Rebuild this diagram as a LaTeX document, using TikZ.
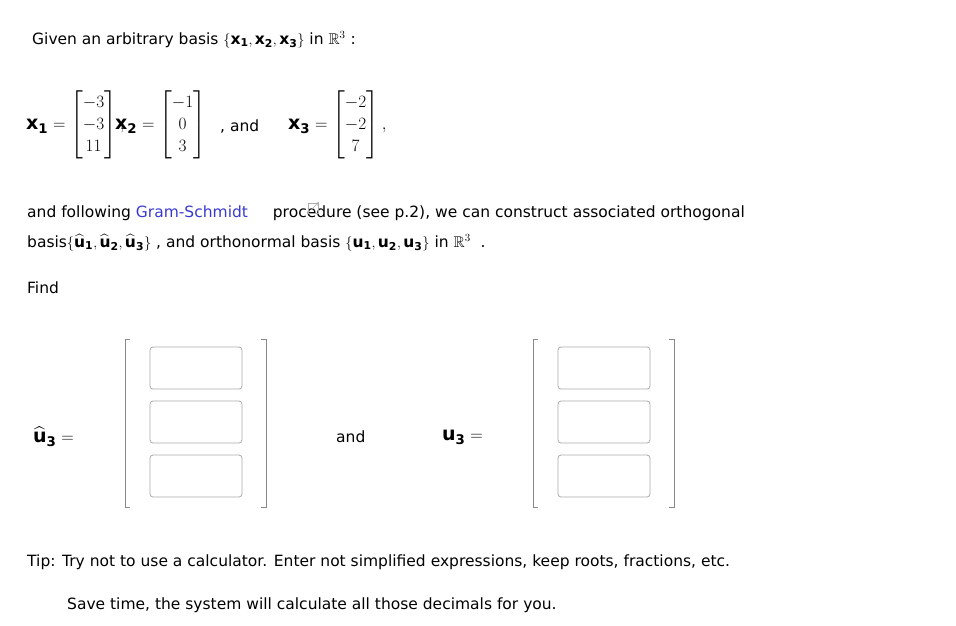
\documentclass[tikz,border=0pt]{standalone}
\usepackage{amsmath,amssymb}
\usepackage{fontspec}
\setmainfont{DejaVu Sans}
\definecolor{lnk}{HTML}{3A3AD0}
\definecolor{bxc}{HTML}{AAAAAA}
\definecolor{brc}{HTML}{888888}
\tikzset{txt/.style={anchor=base west,inner sep=0pt,font=\fontsize{15.5}{18}\selectfont},
 mth/.style={anchor=west,inner sep=0pt,font=\fontsize{19}{22}\selectfont},
 inbox/.style={draw=bxc,rounded corners=3pt,minimum width=92pt,minimum height=42pt,inner sep=0pt,line width=0.8pt},
 brk/.style={draw=brc,line width=0.9pt}}
\begin{document}
\begin{tikzpicture}[x=1pt,y=-1pt]
\useasboundingbox (0,0) rectangle (956,625);
\node[txt] (t1) at (32,44) {Given an arbitrary basis $\{\mathbf{x_1},\mathbf{x_2},\mathbf{x_3}\}$ in $\mathbb{R}^3$ :};
\node[mth] (m1) at (26,125) {$\mathbf{x_1}=\begin{bmatrix}-3\\-3\\11\end{bmatrix},$};
\node[mth] (m2) at (115,125) {$\mathbf{x_2}=\begin{bmatrix}-1\\0\\3\end{bmatrix}$};
\node[txt] (and1) at (220,131) {, and};
\node[mth] (m3) at (288,125) {$\mathbf{x_3}=\begin{bmatrix}-2\\-2\\7\end{bmatrix},$};
\node[txt] (t2) at (27,217) {and following \textcolor{lnk}{Gram-Schmidt}\hspace{20pt} procedure (see p.2), we can construct associated orthogonal};
\coordinate (ic) at (313,210);
\draw[bxc,line width=0.6pt] (308,203) rectangle (318,213);
\draw[bxc,line width=0.6pt,-stealth] (311,210) -- (319,202);
\node[txt] (t3) at (27,247) {basis$\{\widehat{\mathbf{u}}_{\mathbf{1}},\widehat{\mathbf{u}}_{\mathbf{2}},\widehat{\mathbf{u}}_{\mathbf{3}}\}$ , and orthonormal basis $\{\mathbf{u_1},\mathbf{u_2},\mathbf{u_3}\}$ in $\mathbb{R}^3$ \ .};
\node[txt] (find) at (27,293) {Find};
\node[mth] (uh) at (33,437) {$\widehat{\mathbf{u}}_{\mathbf{3}}=$};
\node[txt] (and2) at (336,442) {and};
\node[mth] (u3) at (442,437) {$\mathbf{u_3}=$};
\foreach \xo/\nm in {0/a,408/b}{
 \draw[brk] (\xo+130,339) -- (\xo+125,339) -- (\xo+125,507) -- (\xo+130,507);
 \draw[brk] (\xo+261,339) -- (\xo+266,339) -- (\xo+266,507) -- (\xo+261,507);
 \node[inbox] (\nm1) at (\xo+196,368) {};
 \node[inbox] (\nm2) at (\xo+196,422) {};
 \node[inbox] (\nm3) at (\xo+196,476) {};
}
\node[txt] (tip) at (27,566) {Tip: Try not to use a calculator. Enter not simplified expressions, keep roots, fractions, etc.};
\node[txt] (save) at (67,609) {Save time, the system will calculate all those decimals for you.};
\end{tikzpicture}
\end{document}
